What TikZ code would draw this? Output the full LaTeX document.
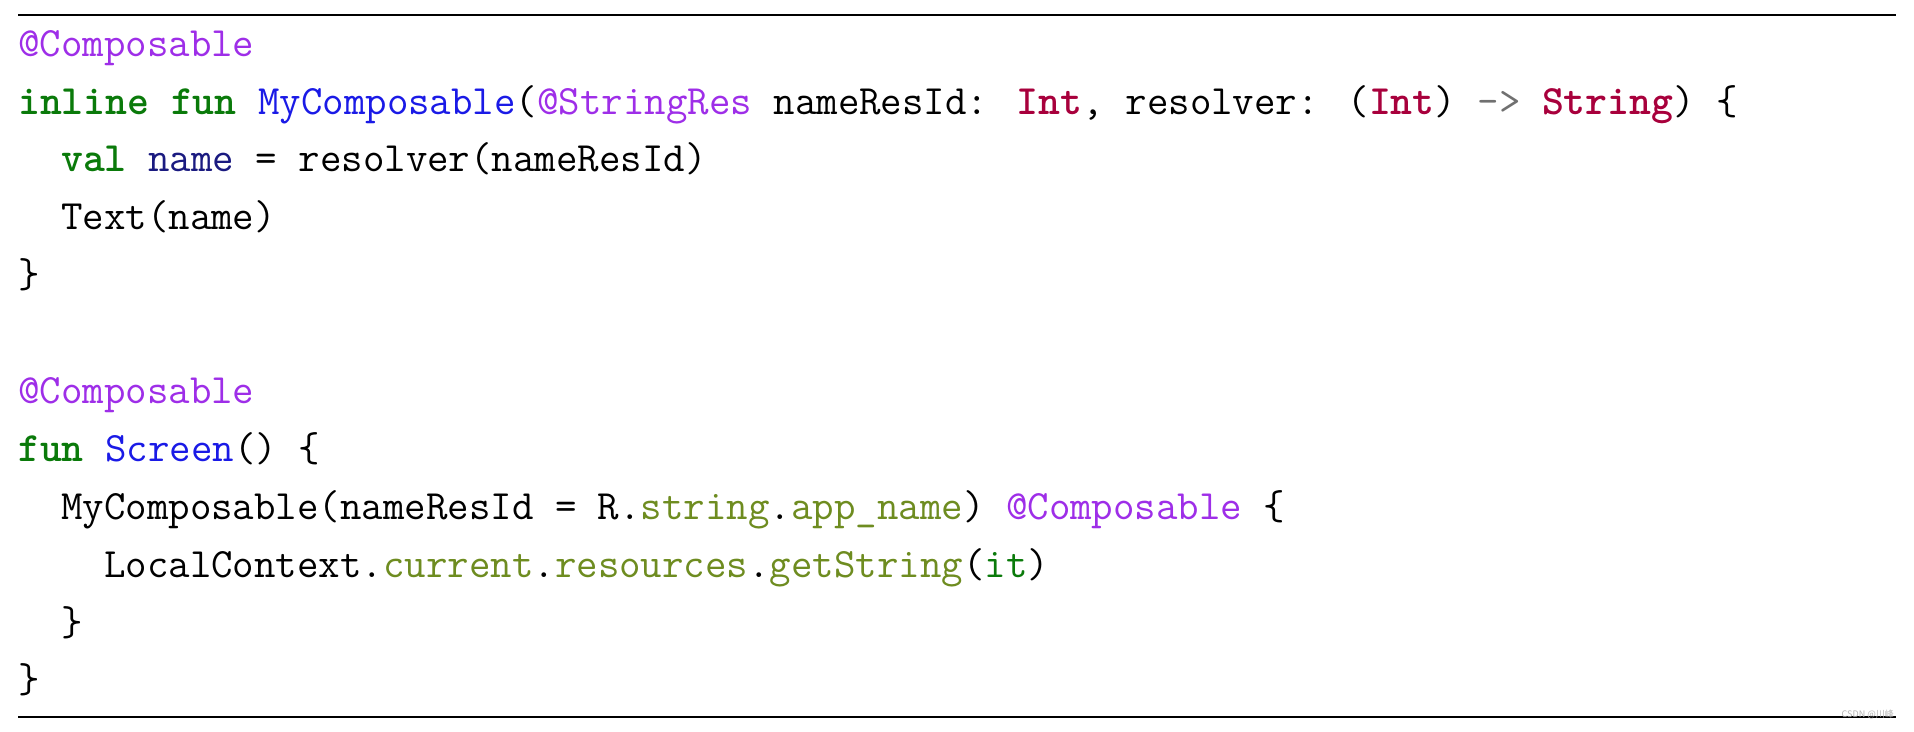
\documentclass[tikz,border=0pt]{standalone}
\usepackage{fontspec}
\newfontfamily\cjk{Noto Sans CJK SC}
\definecolor{anno}{HTML}{9E2EE8}
\definecolor{kw}{HTML}{0A7A0A}
\definecolor{fn}{HTML}{1A1AE6}
\definecolor{ty}{HTML}{A8003C}
\definecolor{vr}{HTML}{1A1A80}
\definecolor{ol}{HTML}{6E8C20}
\definecolor{gr}{HTML}{707070}
\newcommand{\An}[1]{\textcolor{anno}{#1}}
\newcommand{\Kw}[1]{\textcolor{kw}{\bfseries #1}}
\newcommand{\Fn}[1]{\textcolor{fn}{#1}}
\newcommand{\Ty}[1]{\textcolor{ty}{\bfseries #1}}
\newcommand{\Vr}[1]{\textcolor{vr}{#1}}
\newcommand{\Ol}[1]{\textcolor{ol}{#1}}
\begin{document}
\begin{tikzpicture}[x=1pt,y=-1pt,
  code/.style={anchor=base west,inner sep=0pt,font=\fontsize{41.7}{45}\ttfamily}]
\useasboundingbox (0,0) rectangle (1914,731);
\coordinate (tl) at (18,15); \coordinate (tr) at (1896,15);
\coordinate (bl) at (18,717); \coordinate (br) at (1896,717);
\draw[line width=1.3pt] (tl) -- (tr);
\draw[line width=1.3pt] (bl) -- (br);
\node[code] (l1) at (18,56) {\An{@Composable}};
\node[code] (l2) at (18,114) {\Kw{inline} \Kw{fun} \Fn{MyComposable}(\An{@StringRes} nameResId: \Ty{Int}, resolver: (\Ty{Int}) \textcolor{gr}{->} \Ty{String}) \{};
\node[code] (l3) at (18,171) {\ \ \Kw{val} \Vr{name} = resolver(nameResId)};
\node[code] (l4) at (18,229) {\ \ Text(name)};
\node[code] (l5) at (18,287) {\}};
\node[code] (l6) at (18,403) {\An{@Composable}};
\node[code] (l7) at (18,461) {\Kw{fun} \Fn{Screen}() \{};
\node[code] (l8) at (18,519) {\ \ MyComposable(nameResId = R.\Ol{string}.\Ol{app\_name}) \An{@Composable} \{};
\node[code] (l9) at (18,577) {\ \ \ \ LocalContext.\Ol{current}.\Ol{resources}.\Ol{getString}(\textcolor{kw}{it})};
\node[code] (l10) at (18,635) {\ \ \}};
\node[code] (l11) at (18,692) {\}};
\node[anchor=east,inner sep=0pt,text=gray!60,font=\fontsize{9}{10}\cjk] (wm) at (1894,714) {CSDN @川峰};
\end{tikzpicture}
\end{document}
